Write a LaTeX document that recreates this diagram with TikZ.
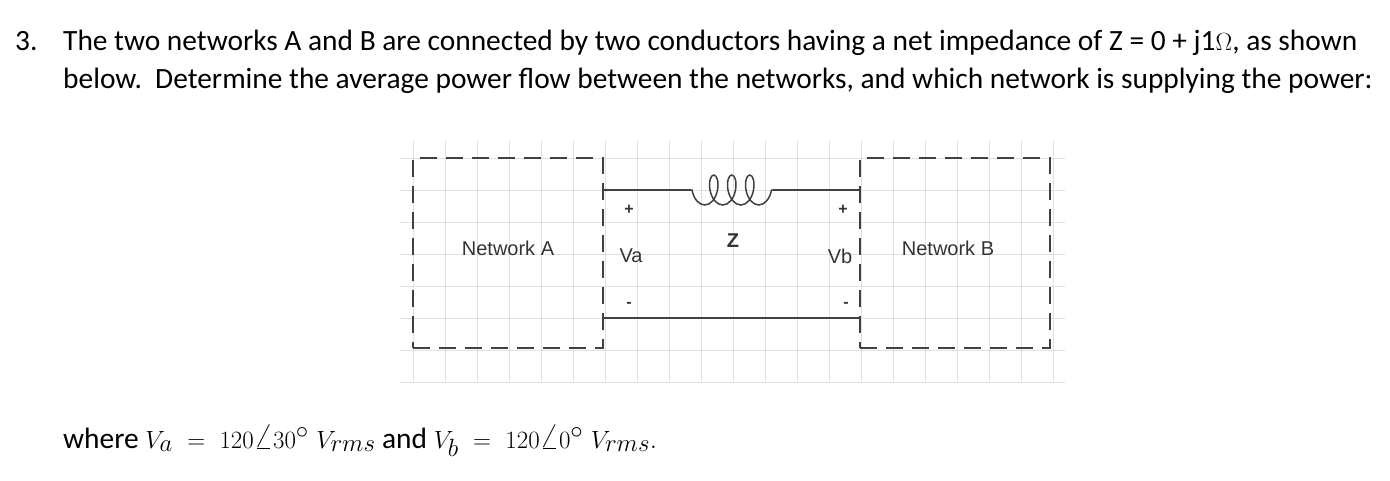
\documentclass[tikz,border=0pt]{standalone}
\usepackage{fontspec}
\setmainfont{Carlito}
\newfontfamily\diag{Liberation Sans}
\usetikzlibrary{decorations.pathmorphing}
\begin{document}
\begin{tikzpicture}[x=1pt,y=-1pt,
  box/.style={draw=black!75,line width=1.5pt,dash pattern=on 17pt off 9pt,minimum width=190pt,minimum height=190pt,inner sep=0pt},
  wire/.style={draw=black!75,line width=1.5pt},
  lbl/.style={font=\diag\fontsize{20}{20}\selectfont,text=black!80},
  pm/.style={font=\diag\bfseries\fontsize{16}{16}\selectfont,text=black!80},
  txt/.style={anchor=base west,inner sep=0pt,font=\fontsize{29.4}{29.4}\selectfont}]
\useasboundingbox (0,0) rectangle (1390,480);
% grid
\foreach \x in {413,445,...,1061} \draw[black!12,line width=0.6pt] (\x,140) -- (\x,382);
\foreach \y in {158,190,...,382} \draw[black!12,line width=0.6pt] (400,\y) -- (1065,\y);
\node[txt] (n3) at (15,50) {3.};
\node[txt] (l1) at (63,50) {The two networks A and B are connected by two conductors having a net impedance of Z = 0 + j1$\Omega$, as shown};
\node[txt] (l2) at (63,88) {below.\ \ Determine the average power flow between the networks, and which network is supplying the power:};
\node[box] (A) at (508,253) {};
\node[box] (B) at (955,253) {};
\node[lbl] (na) at (508,248) {Network A};
\node[lbl] (nb) at (948,248) {Network B};
\coordinate (tA) at (A.east |- 0,190);
\coordinate (bA) at (A.east |- 0,318);
\coordinate (tB) at (B.west |- 0,190);
\coordinate (bB) at (B.west |- 0,318);
\coordinate (c1) at (691,190);
\coordinate (c2) at (773,190);
\draw[wire] (tA) -- (c1);
\draw[wire,decorate,decoration={coil,aspect=0.55,segment length=18pt,amplitude=15pt,mirror,pre length=1pt,post length=1pt}] (c1) -- (c2);
\draw[wire] (c2) -- (tB);
\draw[wire] (bA) -- (bB);
\node[pm] (pa) at (629,210) {+};
\node[pm] (pb) at (843,210) {+};
\node[pm] (ma) at (629,305) {-};
\node[pm] (mb) at (846,305) {-};
\node[lbl,font=\diag\bfseries\fontsize{20}{20}\selectfont] (z) at (733,241) {Z};
\node[lbl] (va) at (631,256) {Va};
\node[lbl] (vb) at (840,256) {Vb};
\node[txt] (w) at (63,448) {where {\fontsize{33}{33}\selectfont$V_a\ =\ 120\angle30^\circ\ V_{rms}$} and {\fontsize{33}{33}\selectfont$V_b\ =\ 120\angle0^\circ\ V_{rms}.$}};
\end{tikzpicture}
\end{document}
